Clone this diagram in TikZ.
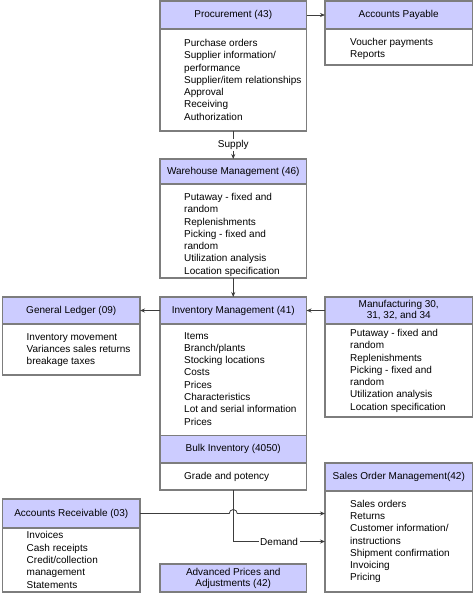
\documentclass[tikz,border=0pt]{standalone}
\usepackage{fontspec}
\setmainfont{Liberation Sans}
\usepackage{xcolor}
\usepackage{tikz}
\usetikzlibrary{positioning, arrows.meta, calc}

\definecolor{headblue}{RGB}{204,204,255}
\definecolor{frameg}{RGB}{125,125,125}
\definecolor{lineg}{RGB}{60,60,60}

\tikzset{
  modhead/.style={draw=frameg, line width=1.2pt, fill=headblue, anchor=north west,
    inner sep=0pt, outer sep=0pt, align=center, font=\fontsize{10}{11}\selectfont},
  modbody/.style={draw=frameg, line width=1.2pt, fill=white, anchor=north west,
    inner sep=0pt, outer sep=0pt},
  items/.style={anchor=north west, inner sep=0pt, align=left,
    font=\fontsize{10}{12.3}\selectfont},
  link/.style={-{Stealth[length=5pt,width=4pt]}, draw=lineg, line width=0.8pt},
}

\begin{document}
\begin{tikzpicture}[x=1pt, y=-1pt]
\useasboundingbox (0,0) rectangle (474,595);

% Procurement
\node[modhead, minimum width=146.5pt, minimum height=28pt] (proc) at (160,1) {Procurement (43)};
\node[modbody, minimum width=146.5pt, minimum height=102pt] (procbody) at (proc.south west) {};
\node[items] (proclist) at ($(procbody.north west)+(24,10)$)
  {Purchase orders\\Supplier information/\\performance\\Supplier/item relationships\\Approval\\Receiving\\Authorization};

% Accounts payable
\node[modhead, minimum width=147.5pt, minimum height=28pt] (ap) at (325,1) {Accounts Payable};
\node[modbody, minimum width=147.5pt, minimum height=36pt] (apbody) at (ap.south west) {};
\node[items] (aplist) at ($(apbody.north west)+(25,9)$) {Voucher payments\\Reports};

% Warehouse
\node[modhead, minimum width=146.5pt, minimum height=25pt] (wh) at (160,159) {Warehouse Management (46)};
\node[modbody, minimum width=146.5pt, minimum height=94pt] (whbody) at (wh.south west) {};
\node[items] (whlist) at ($(whbody.north west)+(24,9)$)
  {Putaway - fixed and\\random\\Replenishments\\Picking - fixed and\\random\\Utilization analysis\\Location specification};

% General ledger
\node[modhead, minimum width=137.5pt, minimum height=27pt] (gl) at (2.5,297) {General Ledger (09)};
\node[modbody, minimum width=137.5pt, minimum height=51pt] (glbody) at (gl.south west) {};
\node[items] (gllist) at ($(glbody.north west)+(24,9)$)
  {Inventory movement\\Variances sales returns\\breakage taxes};

% Inventory + bulk
\node[modhead, minimum width=146.5pt, minimum height=27pt] (inv) at (160,297) {Inventory Management (41)};
\node[modbody, minimum width=146.5pt, minimum height=111.5pt] (invbody) at (inv.south west) {};
\node[items] (invlist) at ($(invbody.north west)+(24,8)$)
  {Items\\Branch/plants\\Stocking locations\\Costs\\Prices\\Characteristics\\Lot and serial information\\Prices};
\node[modhead, minimum width=146.5pt, minimum height=27.5pt] (bulk) at (invbody.south west) {Bulk Inventory (4050)};
\node[modbody, minimum width=146.5pt, minimum height=27pt] (bulkbody) at (bulk.south west) {};
\node[items] (bulklist) at ($(bulkbody.north west)+(24,9.4)$) {Grade and potency};

% Manufacturing
\node[modhead, minimum width=147.5pt, minimum height=27pt] (mfg) at (325,297) {Manufacturing 30,\\31, 32, and 34};
\node[modbody, minimum width=147.5pt, minimum height=93pt] (mfgbody) at (mfg.south west) {};
\node[items] (mfglist) at ($(mfgbody.north west)+(25,5)$)
  {Putaway - fixed and\\random\\Replenishments\\Picking - fixed and\\random\\Utilization analysis\\Location specification};

% Sales order
\node[modhead, minimum width=147.5pt, minimum height=28pt] (som) at (325,463) {Sales Order Management(42)};
\node[modbody, minimum width=147.5pt, minimum height=101pt] (sombody) at (som.south west) {};
\node[items] (somlist) at ($(sombody.north west)+(25,8.7)$)
  {Sales orders\\Returns\\Customer information/\\instructions\\Shipment confirmation\\Invoicing\\Pricing};

% Accounts receivable
\node[modhead, minimum width=137.5pt, minimum height=29pt] (ar) at (2.5,499) {Accounts Receivable (03)};
\node[modbody, minimum width=137.5pt, minimum height=64pt] (arbody) at (ar.south west) {};
\node[items] (arlist) at ($(arbody.north west)+(24,3.4)$)
  {Invoices\\Cash receipts\\Credit/collection\\management\\Statements};

% Advanced prices
\node[modhead, minimum width=146.5pt, minimum height=28pt] (adv) at (160,564) {Advanced Prices and\\Adjustments (42)};

% Connectors
\draw[link] (proc.east) -- (ap.west);
\draw[link] (procbody.south) -- node[fill=white, inner sep=1pt] {Supply} (wh.north);
\draw[link] (whbody.south) -- (inv.north);
\draw[link] (inv.west) -- (gl.east);
\draw[link] (mfg.west) -- (inv.east);
\draw[link] (ar.east) -- ($(ar.east -| bulkbody.south)+(-4,0)$)
  arc[start angle=180, end angle=0, radius=4pt] -- (ar.east -| sombody.west);
\draw[link] (bulkbody.south) |- node[pos=0.75, fill=white, inner sep=1.5pt] {Demand} (sombody.west);

\end{tikzpicture}
\end{document}
